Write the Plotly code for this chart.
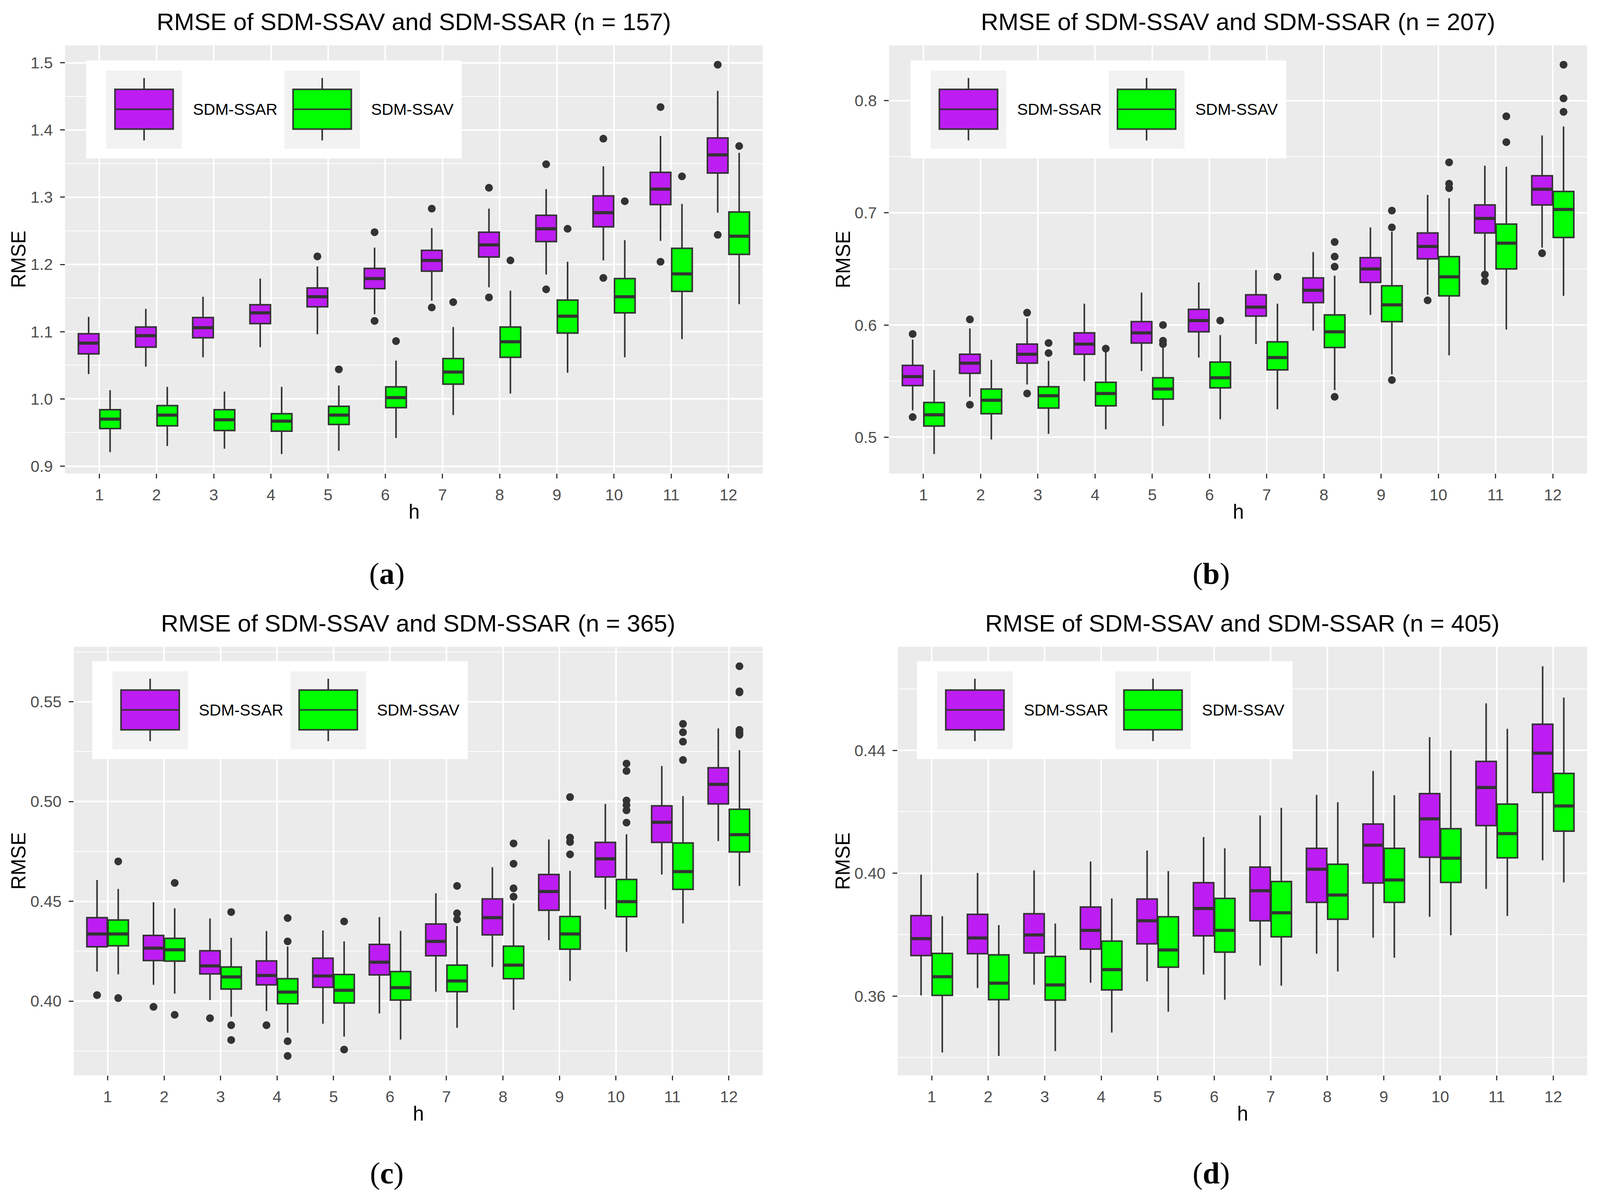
import plotly.graph_objects as go

# reference canvas size in px (the reference is 4231 x 3057); positions below are
# measured in these px and turned into paper fractions
W, HT = 4231, 3057

# forecast horizons
H = list(range(1, 13))
groups = ["SDM-SSAR", "SDM-SSAV"]
titles = [
    "RMSE of SDM-SSAV and SDM-SSAR (n = 157)",
    "RMSE of SDM-SSAV and SDM-SSAR (n = 207)",
    "RMSE of SDM-SSAV and SDM-SSAR (n = 365)",
    "RMSE of SDM-SSAV and SDM-SSAR (n = 405)",
]
captions = ["a", "b", "c", "d"]

# ---- panel (a), n = 157 ----
a_ssar_low = [1.037, 1.048, 1.062, 1.077, 1.096, 1.126, 1.146, 1.166, 1.185, 1.206, 1.235, 1.277]
a_ssar_q1 = [1.067, 1.077, 1.091, 1.112, 1.137, 1.164, 1.190, 1.211, 1.234, 1.256, 1.289, 1.336]
a_ssar_med = [1.083, 1.094, 1.106, 1.128, 1.152, 1.179, 1.206, 1.229, 1.253, 1.277, 1.312, 1.363]
a_ssar_q3 = [1.097, 1.107, 1.121, 1.140, 1.165, 1.194, 1.221, 1.248, 1.273, 1.302, 1.337, 1.388]
a_ssar_up = [1.122, 1.134, 1.152, 1.179, 1.197, 1.225, 1.254, 1.283, 1.312, 1.346, 1.391, 1.458]
a_ssar_out = [[], [], [], [], [1.212], [1.248, 1.116], [1.283, 1.136], [1.314, 1.151],
              [1.349, 1.163], [1.387, 1.180], [1.434, 1.204], [1.497, 1.244]]

a_ssav_low = [0.921, 0.930, 0.926, 0.918, 0.923, 0.942, 0.976, 1.008, 1.039, 1.062, 1.089, 1.141]
a_ssav_q1 = [0.956, 0.960, 0.953, 0.952, 0.962, 0.987, 1.022, 1.062, 1.098, 1.128, 1.160, 1.215]
a_ssav_med = [0.970, 0.976, 0.969, 0.967, 0.976, 1.002, 1.040, 1.085, 1.123, 1.152, 1.186, 1.242]
a_ssav_q3 = [0.984, 0.990, 0.984, 0.978, 0.989, 1.018, 1.060, 1.107, 1.147, 1.179, 1.224, 1.278]
a_ssav_up = [1.013, 1.018, 1.011, 1.018, 1.020, 1.057, 1.107, 1.161, 1.204, 1.236, 1.290, 1.366]
a_ssav_out = [[], [], [], [], [1.044], [1.086], [1.144], [1.206], [1.253], [1.294], [1.331], [1.376]]

# ---- panel (b), n = 207 ----
b_ssar_low = [0.524, 0.536, 0.547, 0.550, 0.559, 0.571, 0.583, 0.595, 0.609, 0.627, 0.648, 0.669]
b_ssar_q1 = [0.546, 0.557, 0.566, 0.574, 0.584, 0.594, 0.608, 0.620, 0.638, 0.659, 0.682, 0.707]
b_ssar_med = [0.554, 0.566, 0.574, 0.583, 0.593, 0.604, 0.616, 0.631, 0.650, 0.670, 0.695, 0.721]
b_ssar_q3 = [0.564, 0.574, 0.583, 0.593, 0.603, 0.614, 0.627, 0.642, 0.660, 0.682, 0.707, 0.733]
b_ssar_up = [0.587, 0.597, 0.606, 0.619, 0.629, 0.638, 0.649, 0.665, 0.687, 0.716, 0.742, 0.769]
b_ssar_out = [[0.592, 0.518], [0.605, 0.529], [0.611, 0.539], [], [], [], [], [], [],
              [0.622], [0.645, 0.639], [0.664]]

b_ssav_low = [0.485, 0.498, 0.503, 0.507, 0.510, 0.516, 0.525, 0.542, 0.556, 0.573, 0.596, 0.626]
b_ssav_q1 = [0.510, 0.521, 0.526, 0.528, 0.534, 0.544, 0.560, 0.580, 0.603, 0.626, 0.650, 0.678]
b_ssav_med = [0.520, 0.533, 0.537, 0.539, 0.543, 0.553, 0.571, 0.594, 0.618, 0.643, 0.673, 0.703]
b_ssav_q3 = [0.531, 0.543, 0.545, 0.549, 0.553, 0.567, 0.585, 0.609, 0.635, 0.661, 0.690, 0.719]
b_ssav_up = [0.560, 0.569, 0.568, 0.576, 0.582, 0.591, 0.619, 0.644, 0.683, 0.713, 0.741, 0.777]
b_ssav_out = [[], [], [0.584, 0.575], [0.579], [0.600, 0.586, 0.583], [0.604], [0.643],
              [0.674, 0.661, 0.652, 0.536], [0.702, 0.687, 0.551], [0.745, 0.726, 0.722],
              [0.786, 0.763], [0.832, 0.802, 0.790]]

# ---- panel (c), n = 365 ----
c_ssar_low = [0.4148, 0.4081, 0.4005, 0.3950, 0.3886, 0.3938, 0.4047, 0.4171, 0.4305, 0.4460, 0.4634, 0.4802]
c_ssar_q1 = [0.4272, 0.4203, 0.4136, 0.4081, 0.4069, 0.4131, 0.4227, 0.4332, 0.4455, 0.4622, 0.4795, 0.4988]
c_ssar_med = [0.4336, 0.4265, 0.4176, 0.4128, 0.4126, 0.4195, 0.4299, 0.4418, 0.4549, 0.4713, 0.4896, 0.5086]
c_ssar_q3 = [0.4418, 0.4329, 0.4252, 0.4201, 0.4215, 0.4284, 0.4386, 0.4512, 0.4634, 0.4795, 0.4978, 0.5169]
c_ssar_up = [0.4607, 0.4495, 0.4414, 0.4351, 0.4354, 0.4421, 0.4540, 0.4671, 0.4810, 0.4988, 0.5178, 0.5366]
c_ssar_out = [[0.4030], [0.3971], [0.3914], [0.3879], [], [], [], [], [], [], [], []]

c_ssav_low = [0.4134, 0.4037, 0.3921, 0.3841, 0.3822, 0.3807, 0.3866, 0.3956, 0.4101, 0.4247, 0.4389, 0.4577]
c_ssav_q1 = [0.4277, 0.4200, 0.4060, 0.3987, 0.3990, 0.4005, 0.4047, 0.4112, 0.4260, 0.4423, 0.4560, 0.4747]
c_ssav_med = [0.4336, 0.4257, 0.4121, 0.4045, 0.4054, 0.4067, 0.4101, 0.4180, 0.4336, 0.4498, 0.4649, 0.4834]
c_ssav_q3 = [0.4406, 0.4314, 0.4171, 0.4112, 0.4133, 0.4148, 0.4180, 0.4275, 0.4424, 0.4609, 0.4792, 0.4961]
c_ssav_up = [0.4562, 0.4465, 0.4317, 0.4273, 0.4299, 0.4352, 0.4376, 0.4490, 0.4653, 0.4836, 0.5027, 0.5257]
c_ssav_out = [[0.4700, 0.4015], [0.4592, 0.3931], [0.4446, 0.3879, 0.3805],
              [0.4416, 0.4299, 0.3799, 0.3725], [0.4399, 0.3757], [],
              [0.4577, 0.4440, 0.4409], [0.4790, 0.4688, 0.4565, 0.4523],
              [0.5022, 0.4819, 0.4797, 0.4735], [0.5190, 0.5153, 0.5005, 0.4982, 0.4956, 0.4894],
              [0.5389, 0.5347, 0.5300, 0.5208], [0.5678, 0.5552, 0.5547, 0.5359, 0.5346, 0.5334]]

# ---- panel (d), n = 405 ----
d_ssar_low = [0.3602, 0.3626, 0.3637, 0.3643, 0.3648, 0.3670, 0.3699, 0.3738, 0.3790, 0.3858, 0.3949, 0.4042]
d_ssar_q1 = [0.3732, 0.3738, 0.3740, 0.3753, 0.3770, 0.3796, 0.3845, 0.3905, 0.3968, 0.4052, 0.4155, 0.4263]
d_ssar_med = [0.3787, 0.3789, 0.3799, 0.3814, 0.3845, 0.3885, 0.3943, 0.4013, 0.4091, 0.4177, 0.4279, 0.4391]
d_ssar_q3 = [0.3862, 0.3866, 0.3868, 0.3890, 0.3916, 0.3969, 0.4020, 0.4081, 0.4160, 0.4259, 0.4364, 0.4485]
d_ssar_up = [0.3995, 0.4001, 0.4009, 0.4038, 0.4074, 0.4118, 0.4188, 0.4255, 0.4333, 0.4443, 0.4553, 0.4674]
d_ssar_out = [[] for _ in H]

d_ssav_low = [0.3416, 0.3405, 0.3421, 0.3481, 0.3549, 0.3588, 0.3634, 0.3680, 0.3725, 0.3798, 0.3861, 0.3970]
d_ssav_q1 = [0.3602, 0.3588, 0.3587, 0.3620, 0.3694, 0.3743, 0.3793, 0.3850, 0.3905, 0.3970, 0.4050, 0.4137]
d_ssav_med = [0.3663, 0.3642, 0.3636, 0.3686, 0.3750, 0.3814, 0.3871, 0.3929, 0.3978, 0.4049, 0.4129, 0.4219]
d_ssav_q3 = [0.3739, 0.3734, 0.3729, 0.3779, 0.3858, 0.3918, 0.3973, 0.4029, 0.4081, 0.4145, 0.4225, 0.4325]
d_ssav_up = [0.3860, 0.3831, 0.3836, 0.3918, 0.4007, 0.4081, 0.4213, 0.4231, 0.4254, 0.4400, 0.4470, 0.4572]
d_ssav_out = [[] for _ in H]

# y tick settings per panel: (first tick, step, minor first, format)
yticks = [(0.9, 0.1, 0.95, ".1f"), (0.5, 0.1, 0.45, ".1f"),
          (0.40, 0.05, 0.375, ".2f"), (0.36, 0.04, 0.34, ".2f")]

stats = [
    [(a_ssar_low, a_ssar_q1, a_ssar_med, a_ssar_q3, a_ssar_up, a_ssar_out),
     (a_ssav_low, a_ssav_q1, a_ssav_med, a_ssav_q3, a_ssav_up, a_ssav_out)],
    [(b_ssar_low, b_ssar_q1, b_ssar_med, b_ssar_q3, b_ssar_up, b_ssar_out),
     (b_ssav_low, b_ssav_q1, b_ssav_med, b_ssav_q3, b_ssav_up, b_ssav_out)],
    [(c_ssar_low, c_ssar_q1, c_ssar_med, c_ssar_q3, c_ssar_up, c_ssar_out),
     (c_ssav_low, c_ssav_q1, c_ssav_med, c_ssav_q3, c_ssav_up, c_ssav_out)],
    [(d_ssar_low, d_ssar_q1, d_ssar_med, d_ssar_q3, d_ssar_up, d_ssar_out),
     (d_ssav_low, d_ssav_q1, d_ssav_med, d_ssav_q3, d_ssav_up, d_ssav_out)],
]

colors = ["#BD1DF2", "#00FF00"]
dodge = [-0.1875, 0.1875]
box_w = 0.36
dark = "#333333"
FONT = "Liberation Sans"

# panel areas in px: left, right, top, bottom
panel_px = [(172, 2017, 116, 1214), (2351, 4197, 116, 1214),
            (195, 2017, 1658, 2757), (2374, 4197, 1658, 2757)]
# legend box top-left corner in px
legend_px = [(228, 155), (2408, 155), (244, 1695), (2425, 1695)]
caption_px = [(1023, 1470), (3203, 1470), (1023, 3007), (3203, 3007)]
ylab_x = [49, 2229, 49, 2229]


def px_x(v):
    return v / W


def px_y(v):
    return 1 - v / HT


fig = go.Figure()
shapes = []
annotations = []

for p in range(4):
    ax = "" if p == 0 else str(p + 1)
    xref, yref = "x" + ax, "y" + ax
    all_y = []
    for g in range(2):
        low, q1, med, q3, up, out = stats[p][g]
        pos = [h + dodge[g] for h in H]
        fig.add_trace(go.Box(
            x=pos, q1=q1, median=med, q3=q3, lowerfence=low, upperfence=up,
            width=box_w, whiskerwidth=0, fillcolor=colors[g],
            line=dict(color=dark, width=4), boxpoints=False,
            name=groups[g], showlegend=False, xaxis=xref, yaxis=yref,
        ))
        # thicker median bar, as ggplot draws it
        mx, my = [], []
        for x0, m in zip(pos, med):
            mx += [x0 - box_w / 2, x0 + box_w / 2, None]
            my += [m, m, None]
        fig.add_trace(go.Scatter(
            x=mx, y=my, mode="lines", line=dict(color=dark, width=8),
            showlegend=False, hoverinfo="skip", xaxis=xref, yaxis=yref,
        ))
        ox, oy = [], []
        for x0, pts in zip(pos, out):
            ox += [x0] * len(pts)
            oy += pts
        fig.add_trace(go.Scatter(
            x=ox, y=oy, mode="markers", marker=dict(color=dark, size=20),
            showlegend=False, xaxis=xref, yaxis=yref,
        ))
        all_y += low + up + oy

    lo, hi = min(all_y), max(all_y)
    pad = (hi - lo) * 0.05
    left, right, top, bottom = panel_px[p]
    t0, step, m0, fmt = yticks[p]
    fig.update_layout({
        "xaxis" + ax: dict(
            domain=[px_x(left), px_x(right)], anchor=yref,
            range=[min(H) - 0.6, max(H) + 0.6], tickmode="linear", tick0=1, dtick=1,
            showgrid=True, gridcolor="white", gridwidth=4, zeroline=False,
            ticks="outside", ticklen=12, tickwidth=3, tickcolor=dark,
            tickfont=dict(family=FONT, size=41, color="#4D4D4D"), ticklabelstandoff=6,
        ),
        "yaxis" + ax: dict(
            domain=[px_y(bottom), px_y(top)], anchor=xref,
            range=[lo - pad, hi + pad], tickmode="linear", tick0=t0, dtick=step,
            tickformat=fmt, showgrid=True, gridcolor="white", gridwidth=4, zeroline=False,
            ticks="outside", ticklen=12, tickwidth=3, tickcolor=dark,
            tickfont=dict(family=FONT, size=41, color="#4D4D4D"), ticklabelstandoff=10,
            minor=dict(tick0=m0, dtick=step, showgrid=True, gridcolor="white",
                       gridwidth=2, ticks=""),
        ),
    })

    cx = px_x((left + right) / 2)
    annotations.append(dict(text=titles[p], x=cx, y=px_y(top - 60), xref="paper", yref="paper",
                            showarrow=False, xanchor="center", yanchor="middle",
                            font=dict(family=FONT, size=62, color="black")))
    annotations.append(dict(text="h", x=cx, y=px_y(bottom + 98), xref="paper", yref="paper",
                            showarrow=False, xanchor="center", yanchor="middle",
                            font=dict(family=FONT, size=51, color="black")))
    annotations.append(dict(text="RMSE", x=px_x(ylab_x[p]), y=px_y((top + bottom) / 2),
                            xref="paper", yref="paper", textangle=-90, showarrow=False,
                            xanchor="center", yanchor="middle",
                            font=dict(family=FONT, size=51, color="black")))
    annotations.append(dict(text="(<b>" + captions[p] + "</b>)", x=px_x(caption_px[p][0]),
                            y=px_y(caption_px[p][1]), xref="paper", yref="paper",
                            showarrow=False, xanchor="center", yanchor="middle",
                            font=dict(family="Liberation Serif", size=78, color="black")))

    # legend drawn like the ggplot key: white frame, grey keys, small boxplots
    bl, bt = legend_px[p]
    shapes.append(dict(type="rect", xref="paper", yref="paper", layer="above",
                       x0=px_x(bl), x1=px_x(bl + 993), y0=px_y(bt + 251), y1=px_y(bt),
                       fillcolor="white", line=dict(width=0)))
    for g, kx in enumerate([53, 524]):
        k = bl + kx
        shapes.append(dict(type="rect", xref="paper", yref="paper", layer="above",
                           x0=px_x(k), x1=px_x(k + 200), y0=px_y(bt + 226), y1=px_y(bt + 26),
                           fillcolor="#F2F2F2", line=dict(width=0)))
        for y0, y1 in [(bt + 45, bt + 74), (bt + 176, bt + 205)]:
            shapes.append(dict(type="line", xref="paper", yref="paper", layer="above",
                               x0=px_x(k + 100), x1=px_x(k + 100), y0=px_y(y0), y1=px_y(y1),
                               line=dict(color=dark, width=4)))
        shapes.append(dict(type="rect", xref="paper", yref="paper", layer="above",
                           x0=px_x(k + 23), x1=px_x(k + 177), y0=px_y(bt + 176), y1=px_y(bt + 74),
                           fillcolor=colors[g], line=dict(color=dark, width=4)))
        shapes.append(dict(type="line", xref="paper", yref="paper", layer="above",
                           x0=px_x(k + 23), x1=px_x(k + 177), y0=px_y(bt + 125), y1=px_y(bt + 125),
                           line=dict(color=dark, width=4)))
        annotations.append(dict(text=groups[g], x=px_x(k + 227), y=px_y(bt + 125),
                                xref="paper", yref="paper", showarrow=False,
                                xanchor="left", yanchor="middle",
                                font=dict(family=FONT, size=41, color="black")))

# size follows the browser window, so the whole figure fits the viewport
fig.update_layout(
    autosize=True,
    margin=dict(l=0, r=0, t=0, b=0),
    paper_bgcolor="white", plot_bgcolor="#EBEBEB",
    showlegend=False, shapes=shapes, annotations=annotations,
)

fig.write_html(
    "out.html",
    config={"displayModeBar": False},
    default_width="100vw",
    default_height="100vh",
    post_script=(
        "document.body.style.margin='0';document.body.style.overflow='hidden';"
        "Plotly.Plots.resize(document.getElementById('{plot_id}'));"
    ),
)
